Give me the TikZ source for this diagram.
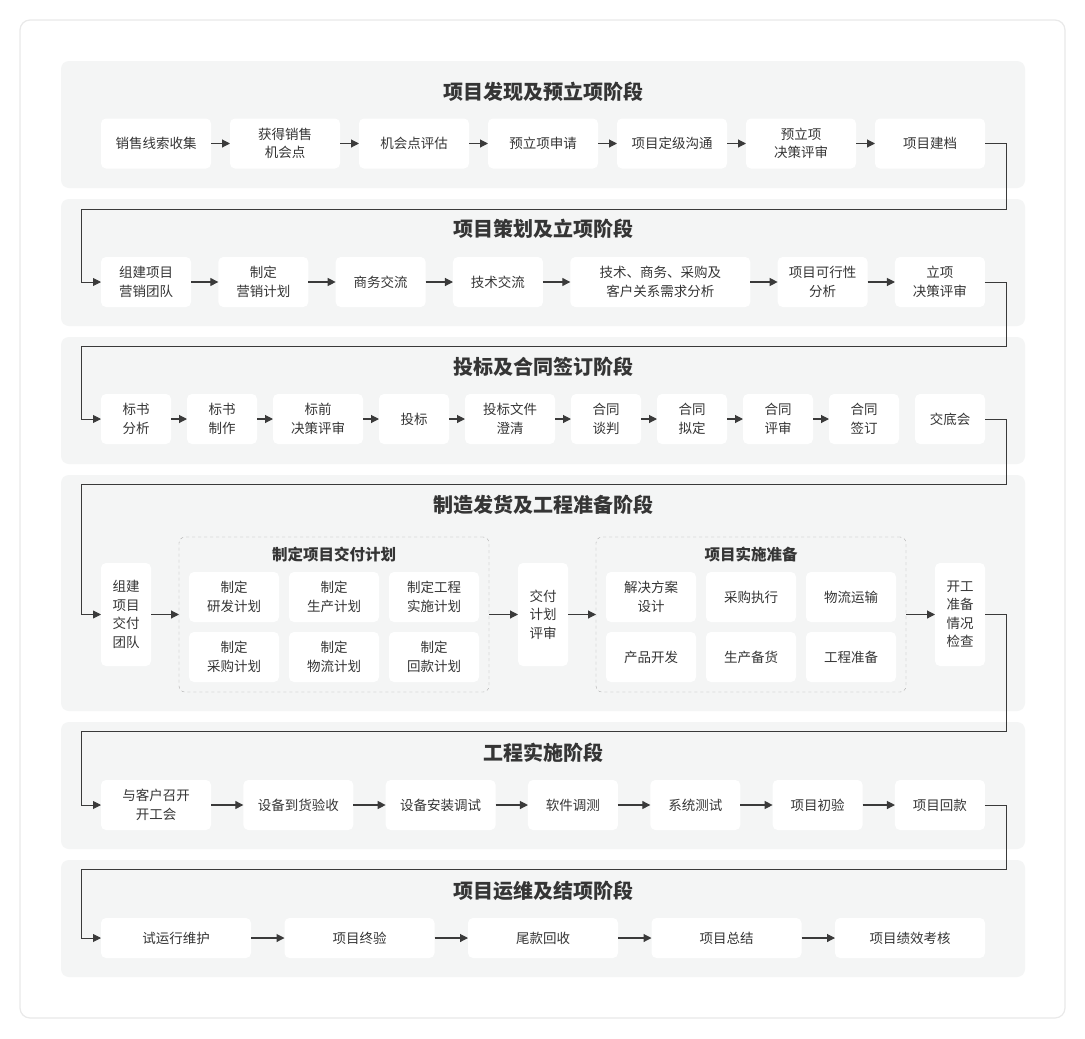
\documentclass[tikz,border=0pt]{standalone}
\usepackage{fontspec}
\setmainfont{Noto Sans CJK SC}
\usetikzlibrary{positioning, arrows.meta}
\definecolor{panelgray}{HTML}{F4F5F5}
\definecolor{textdark}{HTML}{353535}
\definecolor{linedark}{HTML}{3A3A3A}
\definecolor{dashgray}{HTML}{ABABAB}
\definecolor{cardline}{HTML}{E9E9E9}

\begin{document}
\begin{tikzpicture}[x=1pt, y=-1pt,
    box/.style={fill=white, rounded corners=5pt, minimum width=#1pt, minimum height=50pt,
        inner sep=0pt, outer sep=0pt, align=center, text=textdark, font=\fontsize{13.5}{18.5}\selectfont},
    box/.default=110,
    phase/.style={text=textdark, font=\fontsize{20}{23}\selectfont\bfseries},
    grouptitle/.style={text=textdark, font=\fontsize{15.5}{18}\selectfont\bfseries},
    group/.style={draw=dashgray, dashed, rounded corners=6pt, outer sep=0pt, minimum width=310pt, minimum height=155pt},
    flow/.style={draw=linedark, line width=1.1pt, -{Triangle[length=8pt, width=8pt]}},
    link/.style={flow, line width=0.9pt}]

\useasboundingbox (0,0) rectangle (1085,1039);
\draw[draw=cardline, line width=1.2pt, fill=white, rounded corners=10pt] (20,20) rectangle (1065,1018);
\foreach \top/\bot in {61/188, 199/326, 337/464, 475/711, 722/849, 860/977}
    \fill[panelgray, rounded corners=8pt] (61,\top) rectangle (1025,\bot);

\node[phase] (t1) at (543,92) {项目发现及预立项阶段};
\node[phase] (t2) at (543,229) {项目策划及立项阶段};
\node[phase] (t3) at (543,367) {投标及合同签订阶段};
\node[phase] (t4) at (543,505) {制造发货及工程准备阶段};
\node[phase] (t5) at (543,753) {工程实施阶段};
\node[phase] (t6) at (543,891) {项目运维及结项阶段};

% row 1
\node[box, anchor=west] (a1) at (101,143.5) {销售线索收集};
\node[box, right=19pt of a1] (a2) {获得销售\\机会点};
\node[box, right=19pt of a2] (a3) {机会点评估};
\node[box, right=19pt of a3] (a4) {预立项申请};
\node[box, right=19pt of a4] (a5) {项目定级沟通};
\node[box, right=19pt of a5] (a6) {预立项\\决策评审};
\node[box, right=19pt of a6] (a7) {项目建档};

% row 2
\node[box=90, anchor=west] (b1) at (101,282) {组建项目\\营销团队};
\node[box=90, right=27.33pt of b1] (b2) {制定\\营销计划};
\node[box=90, right=27.33pt of b2] (b3) {商务交流};
\node[box=90, right=27.33pt of b3] (b4) {技术交流};
\node[box=180, right=27.33pt of b4] (b5) {技术、商务、采购及\\客户关系需求分析};
\node[box=90, right=27.33pt of b5] (b6) {项目可行性\\分析};
\node[box=90, right=27.33pt of b6] (b7) {立项\\决策评审};

% row 3
\node[box=70, anchor=west] (c1) at (101,419) {标书\\分析};
\node[box=70, right=16pt of c1] (c2) {标书\\制作};
\node[box=90, right=16pt of c2] (c3) {标前\\决策评审};
\node[box=70, right=16pt of c3] (c4) {投标};
\node[box=90, right=16pt of c4] (c5) {投标文件\\澄清};
\node[box=70, right=16pt of c5] (c6) {合同\\谈判};
\node[box=70, right=16pt of c6] (c7) {合同\\拟定};
\node[box=70, right=16pt of c7] (c8) {合同\\评审};
\node[box=70, right=16pt of c8] (c9) {合同\\签订};
\node[box=70, right=16pt of c9] (c10) {交底会};

% row 4
\node[box=50, minimum height=103pt, anchor=west] (d1) at (101,614.5) {组建\\项目\\交付\\团队};
\node[group, right=28pt of d1] (plan) {};
\node[grouptitle] at ([yshift=-18pt]plan.north) {制定项目交付计划};
\node[box=90, anchor=north west] (p1) at ([shift={(10pt,-35pt)}]plan.north west) {制定\\研发计划};
\node[box=90, right=10pt of p1] (p2) {制定\\生产计划};
\node[box=90, right=10pt of p2] (p3) {制定工程\\实施计划};
\node[box=90, below=10pt of p1] (p4) {制定\\采购计划};
\node[box=90, right=10pt of p4] (p5) {制定\\物流计划};
\node[box=90, right=10pt of p5] (p6) {制定\\回款计划};
\node[box=50, minimum height=103pt, right=29pt of plan] (d2) {交付\\计划\\评审};
\node[group, right=28pt of d2] (prep) {};
\node[grouptitle] at ([yshift=-18pt]prep.north) {项目实施准备};
\node[box=90, anchor=north west] (q1) at ([shift={(10pt,-35pt)}]prep.north west) {解决方案\\设计};
\node[box=90, right=10pt of q1] (q2) {采购执行};
\node[box=90, right=10pt of q2] (q3) {物流运输};
\node[box=90, below=10pt of q1] (q4) {产品开发};
\node[box=90, right=10pt of q4] (q5) {生产备货};
\node[box=90, right=10pt of q5] (q6) {工程准备};
\node[box=50, minimum height=103pt, right=29pt of prep] (d3) {开工\\准备\\情况\\检查};

% row 5
\node[box, anchor=west] (e1) at (101,805) {与客户召开\\开工会};
\node[box, right=32.33pt of e1] (e2) {设备到货验收};
\node[box, right=32.33pt of e2] (e3) {设备安装调试};
\node[box=90, right=32.33pt of e3] (e4) {软件调测};
\node[box=90, right=32.33pt of e4] (e5) {系统测试};
\node[box=90, right=32.33pt of e5] (e6) {项目初验};
\node[box=90, right=32.33pt of e6] (e7) {项目回款};

% row 6
\node[box=150, minimum height=40pt, anchor=west] (f1) at (101,938) {试运行维护};
\node[box=150, minimum height=40pt, right=33.5pt of f1] (f2) {项目终验};
\node[box=150, minimum height=40pt, right=33.5pt of f2] (f3) {尾款回收};
\node[box=150, minimum height=40pt, right=33.5pt of f3] (f4) {项目总结};
\node[box=150, minimum height=40pt, right=33.5pt of f4] (f5) {项目绩效考核};

\foreach \i/\j in {a1/a2, a2/a3, a3/a4, a4/a5, a5/a6, a6/a7,
                   b1/b2, b2/b3, b3/b4, b4/b5, b5/b6, b6/b7,
                   c1/c2, c2/c3, c3/c4, c4/c5, c5/c6, c6/c7, c7/c8, c8/c9,
                   d1/plan, plan/d2, d2/prep, prep/d3,
                   e1/e2, e2/e3, e3/e4, e4/e5, e5/e6, e6/e7,
                   f1/f2, f2/f3, f3/f4, f4/f5}
    \draw[flow] (\i) -- (\j);

\draw[link] (a7.east) -- ++(21,0) -- ++(0,65.5) -| ([xshift=-20pt]b1.west) -- (b1.west);
\draw[link] (b7.east) -- ++(21,0) -- ++(0,64) -| ([xshift=-20pt]c1.west) -- (c1.west);
\draw[link] (c10.east) -- ++(21,0) -- ++(0,65) -| ([xshift=-20pt]d1.west) -- (d1.west);
\draw[link] (d3.east) -- ++(21,0) -- ++(0,117) -| ([xshift=-20pt]e1.west) -- (e1.west);
\draw[link] (e7.east) -- ++(21,0) -- ++(0,64) -| ([xshift=-20pt]f1.west) -- (f1.west);

\end{tikzpicture}
\end{document}
